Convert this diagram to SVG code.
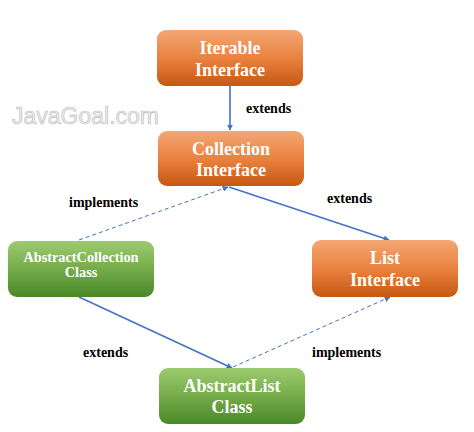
<svg xmlns="http://www.w3.org/2000/svg" width="474" height="432" viewBox="0 0 474 432">
<defs>
<linearGradient id="og" x1="0" y1="0" x2="0" y2="1">
<stop offset="0" stop-color="#f3a774"/>
<stop offset="0.5" stop-color="#ea8240"/>
<stop offset="1" stop-color="#c65812"/>
</linearGradient>
<linearGradient id="gg" x1="0" y1="0" x2="0" y2="1">
<stop offset="0" stop-color="#9dcb70"/>
<stop offset="0.5" stop-color="#74ac48"/>
<stop offset="1" stop-color="#4b8828"/>
</linearGradient>
<marker id="ah" viewBox="0 0 10 10" refX="9" refY="5" markerWidth="6" markerHeight="6" orient="auto" markerUnits="userSpaceOnUse">
<path d="M0,0 L10,5 L0,10 z" fill="#4472c4"/>
</marker>
</defs>
<style>
.box{stroke:none}
.nt{font-family:"Liberation Serif","Times New Roman",serif;font-weight:bold;fill:#ffffff;text-anchor:middle}
.lbl{font-family:"Liberation Serif","Times New Roman",serif;font-weight:bold;font-size:14px;fill:#000000}
.solid{stroke:#4472c4;stroke-width:1.6;fill:none}
.dash{stroke:#4472c4;stroke-width:1;stroke-dasharray:4,3;fill:none}
</style>
<rect width="474" height="432" fill="#ffffff"/>
<text x="12" y="124" font-family="'Liberation Sans',Arial,sans-serif" font-size="23" fill="#ececec" stroke="#bdbdbd" stroke-width="0.6">JavaGoal.com</text>
<g id="connectors">
<line class="solid" x1="230" y1="86" x2="230" y2="130" marker-end="url(#ah)"/>
<line class="solid" x1="229" y1="187" x2="389" y2="240" marker-end="url(#ah)"/>
<line class="dash" x1="79" y1="240" x2="228" y2="187" marker-end="url(#ah)"/>
<line class="solid" x1="79" y1="297" x2="232" y2="368" marker-end="url(#ah)"/>
<line class="dash" x1="233" y1="367" x2="390" y2="297" marker-end="url(#ah)"/>
<text class="lbl" x="246" y="113">extends</text>
<text class="lbl" x="69" y="207">implements</text>
<text class="lbl" x="327" y="203">extends</text>
<text class="lbl" x="83" y="357">extends</text>
<text class="lbl" x="312" y="357">implements</text>
</g>
<g id="iterable">
<rect class="box" x="157" y="30" width="146" height="56" rx="9" fill="url(#og)"/>
<text class="nt" x="230" y="54" font-size="18">Iterable</text>
<text class="nt" x="230" y="76" font-size="18">Interface</text>
</g>
<g id="collection">
<rect class="box" x="158" y="131" width="146" height="55" rx="9" fill="url(#og)"/>
<text class="nt" x="231" y="155" font-size="18">Collection</text>
<text class="nt" x="231" y="176" font-size="18">Interface</text>
</g>
<g id="abstractcollection">
<rect class="box" x="8" y="241" width="146" height="56" rx="9" fill="url(#gg)"/>
<text class="nt" x="81" y="262" font-size="14.3">AbstractCollection</text>
<text class="nt" x="81" y="277" font-size="14.3">Class</text>
</g>
<g id="list">
<rect class="box" x="312" y="240" width="146" height="57" rx="9" fill="url(#og)"/>
<text class="nt" x="385" y="264" font-size="18">List</text>
<text class="nt" x="385" y="286" font-size="18">Interface</text>
</g>
<g id="abstractlist">
<rect class="box" x="159" y="368" width="146" height="56" rx="9" fill="url(#gg)"/>
<text class="nt" x="232" y="392" font-size="18">AbstractList</text>
<text class="nt" x="232" y="413" font-size="18">Class</text>
</g>
</svg>
